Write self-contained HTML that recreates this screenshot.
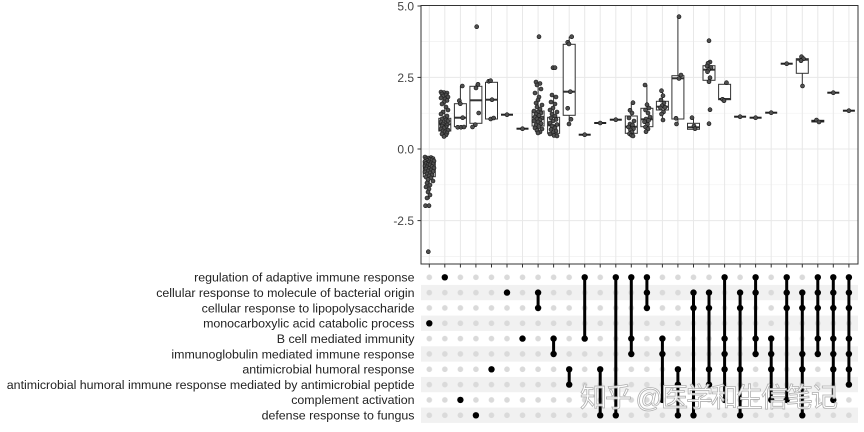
<!DOCTYPE html>
<html><head><meta charset="utf-8"><style>
html,body{margin:0;padding:0;background:#fff;}
svg{display:block;}
text{font-family:"Liberation Sans",Arial,sans-serif;}
</style></head><body>
<svg width="864" height="432" viewBox="0 0 864 432" xmlns="http://www.w3.org/2000/svg">
<defs>
<pattern id="gd" patternUnits="userSpaceOnUse" x="421.53" y="269.63" width="15.54" height="15.33">
<circle cx="7.77" cy="7.67" r="2.8" fill="#dadada"/>
</pattern>
</defs>
<rect width="864" height="432" fill="#fff"/>
<!-- panel grid -->
<g stroke="#f1f1f1" stroke-width="0.7">
<line x1="421" x2="858" y1="41.6" y2="41.6"/><line x1="421" x2="858" y1="113.2" y2="113.2"/>
<line x1="421" x2="858" y1="184.8" y2="184.8"/><line x1="421" x2="858" y1="256.4" y2="256.4"/>
</g>
<g stroke="#e8e8e8" stroke-width="1">
<line x1="421" x2="858" y1="77.4" y2="77.4"/><line x1="421" x2="858" y1="149" y2="149"/>
<line x1="421" x2="858" y1="220.6" y2="220.6"/>
<line x1="429.3" x2="429.3" y1="6" y2="264"/><line x1="444.8" x2="444.8" y1="6" y2="264"/>
<line x1="460.4" x2="460.4" y1="6" y2="264"/><line x1="475.9" x2="475.9" y1="6" y2="264"/>
<line x1="491.5" x2="491.5" y1="6" y2="264"/><line x1="507" x2="507" y1="6" y2="264"/>
<line x1="522.5" x2="522.5" y1="6" y2="264"/><line x1="538.1" x2="538.1" y1="6" y2="264"/>
<line x1="553.6" x2="553.6" y1="6" y2="264"/><line x1="569.2" x2="569.2" y1="6" y2="264"/>
<line x1="584.7" x2="584.7" y1="6" y2="264"/><line x1="600.2" x2="600.2" y1="6" y2="264"/>
<line x1="615.8" x2="615.8" y1="6" y2="264"/><line x1="631.3" x2="631.3" y1="6" y2="264"/>
<line x1="646.9" x2="646.9" y1="6" y2="264"/><line x1="662.4" x2="662.4" y1="6" y2="264"/>
<line x1="677.9" x2="677.9" y1="6" y2="264"/><line x1="693.5" x2="693.5" y1="6" y2="264"/>
<line x1="709" x2="709" y1="6" y2="264"/><line x1="724.6" x2="724.6" y1="6" y2="264"/>
<line x1="740.1" x2="740.1" y1="6" y2="264"/><line x1="755.6" x2="755.6" y1="6" y2="264"/>
<line x1="771.2" x2="771.2" y1="6" y2="264"/><line x1="786.7" x2="786.7" y1="6" y2="264"/>
<line x1="802.3" x2="802.3" y1="6" y2="264"/><line x1="817.8" x2="817.8" y1="6" y2="264"/>
<line x1="833.3" x2="833.3" y1="6" y2="264"/><line x1="848.9" x2="848.9" y1="6" y2="264"/>
</g>

<!-- boxplots -->
<g stroke="#333" stroke-width="1" fill="#fff">
<line x1="429.3" x2="429.3" y1="157" y2="199"/><rect x="423.3" y="161.7" width="12" height="15"/><line x1="423.3" x2="435.3" y1="168" y2="168" stroke-width="2"/>
<line x1="444.8" x2="444.8" y1="100" y2="136.7"/><rect x="438.8" y="118.3" width="12" height="12.7"/><line x1="438.8" x2="450.8" y1="124.3" y2="124.3" stroke-width="2"/>
<line x1="460.4" x2="460.4" y1="86" y2="127"/><rect x="454.4" y="103.7" width="12" height="23"/><line x1="454.4" x2="466.4" y1="117.7" y2="117.7" stroke-width="2"/>
<line x1="475.9" x2="475.9" y1="84.3" y2="127"/><rect x="469.9" y="86.3" width="12" height="37"/><line x1="469.9" x2="481.9" y1="100.3" y2="100.3" stroke-width="2"/>
<line x1="491.5" x2="491.5" y1="81" y2="119"/><rect x="485.5" y="82.3" width="12" height="36.7"/><line x1="485.5" x2="497.5" y1="99.7" y2="99.7" stroke-width="2"/>
<line x1="538.1" x2="538.1" y1="83.3" y2="133"/><rect x="532.1" y="111" width="12" height="15"/><line x1="532.1" x2="544.1" y1="117.3" y2="117.3" stroke-width="2"/>
<line x1="553.6" x2="553.6" y1="95" y2="136"/><rect x="547.6" y="117.3" width="12" height="16"/><line x1="547.6" x2="559.6" y1="125.3" y2="125.3" stroke-width="2"/>
<line x1="569.2" x2="569.2" y1="36.7" y2="124"/><rect x="563.2" y="44.3" width="12" height="71"/><line x1="563.2" x2="575.2" y1="91.7" y2="91.7" stroke-width="2"/>
<line x1="631.3" x2="631.3" y1="102.7" y2="136"/><rect x="625.3" y="116" width="12" height="17.3"/><line x1="625.3" x2="637.3" y1="126.7" y2="126.7" stroke-width="2"/>
<line x1="646.9" x2="646.9" y1="85" y2="131.7"/><rect x="640.9" y="108.3" width="12" height="18.4"/><line x1="640.9" x2="652.9" y1="119.3" y2="119.3" stroke-width="2"/>
<line x1="662.4" x2="662.4" y1="90.7" y2="120"/><rect x="656.4" y="101.3" width="12" height="8.7"/><line x1="656.4" x2="668.4" y1="106.7" y2="106.7" stroke-width="2"/>
<line x1="677.9" x2="677.9" y1="16.7" y2="124"/><rect x="671.9" y="75.7" width="12" height="43.3"/><line x1="671.9" x2="683.9" y1="78.3" y2="78.3" stroke-width="2"/>
<line x1="693.5" x2="693.5" y1="117.7" y2="129.3"/><rect x="687.5" y="123.3" width="12" height="6"/><line x1="687.5" x2="699.5" y1="127.3" y2="127.3" stroke-width="2"/>
<line x1="709" x2="709" y1="62" y2="82"/><rect x="703" y="65.7" width="12" height="14.6"/><line x1="703" x2="715" y1="69.7" y2="69.7" stroke-width="2"/>
<line x1="724.6" x2="724.6" y1="82.7" y2="100.7"/><rect x="718.6" y="84.3" width="12" height="15.4"/><line x1="718.6" x2="730.6" y1="99" y2="99" stroke-width="2"/>
<line x1="802.3" x2="802.3" y1="56.7" y2="86"/><rect x="796.3" y="58.7" width="12" height="14.6"/><line x1="796.3" x2="808.3" y1="59.7" y2="59.7" stroke-width="2"/>
<rect x="811.8" y="120.3" width="12" height="1.6"/>
</g>
<g stroke="#222" stroke-width="2">
<line x1="501" x2="513" y1="114.7" y2="114.7"/>
<line x1="516.5" x2="528.5" y1="128.7" y2="128.7"/>
<line x1="578.7" x2="590.7" y1="134.7" y2="134.7"/>
<line x1="594.2" x2="606.2" y1="123" y2="123"/>
<line x1="609.8" x2="621.8" y1="119.7" y2="119.7"/>
<line x1="734.1" x2="746.1" y1="116.7" y2="116.7"/>
<line x1="749.6" x2="761.6" y1="117.7" y2="117.7"/>
<line x1="765.2" x2="777.2" y1="112.7" y2="112.7"/>
<line x1="780.7" x2="792.7" y1="63.7" y2="63.7"/>
<line x1="811.8" x2="823.8" y1="121.3" y2="121.3"/>
<line x1="827.3" x2="839.3" y1="92.7" y2="92.7"/>
<line x1="842.9" x2="854.9" y1="110.7" y2="110.7"/>
</g>

<!-- jitter points -->
<g fill="#505050" stroke="#111" stroke-width="0.6">
<circle cx="425" cy="157" r="2"/><circle cx="431" cy="157.5" r="2"/><circle cx="428" cy="158" r="2"/><circle cx="433" cy="158.5" r="2"/><circle cx="426" cy="159" r="2"/><circle cx="430" cy="159.5" r="2"/><circle cx="432" cy="160" r="2"/><circle cx="427" cy="160.5" r="2"/><circle cx="434" cy="161" r="2"/><circle cx="425" cy="161.5" r="2"/><circle cx="429" cy="162" r="2"/><circle cx="431" cy="163" r="2"/><circle cx="426" cy="163.5" r="2"/><circle cx="433" cy="164" r="2"/><circle cx="428" cy="164.5" r="2"/><circle cx="430" cy="165" r="2"/><circle cx="425" cy="166" r="2"/><circle cx="432" cy="166.5" r="2"/><circle cx="427" cy="167" r="2"/><circle cx="434" cy="168" r="2"/><circle cx="429" cy="168.5" r="2"/><circle cx="426" cy="169" r="2"/><circle cx="431" cy="170" r="2"/><circle cx="428" cy="171" r="2"/><circle cx="433" cy="171.5" r="2"/><circle cx="425" cy="172" r="2"/><circle cx="430" cy="173" r="2"/><circle cx="427" cy="174" r="2"/><circle cx="432" cy="175" r="2"/><circle cx="429" cy="176" r="2"/><circle cx="426" cy="177" r="2"/><circle cx="431" cy="178" r="2"/><circle cx="428" cy="179.5" r="2"/><circle cx="433" cy="181" r="2"/><circle cx="427" cy="183" r="2"/><circle cx="430" cy="185" r="2"/><circle cx="426" cy="187" r="2"/><circle cx="429" cy="189" r="2"/><circle cx="428" cy="192" r="2"/><circle cx="430" cy="195" r="2"/><circle cx="427" cy="198" r="2"/><circle cx="425.5" cy="205.7" r="2"/><circle cx="429" cy="205.7" r="2"/><circle cx="428.3" cy="251.7" r="2"/>
<circle cx="441" cy="92" r="2"/><circle cx="444" cy="92.5" r="2"/><circle cx="447" cy="93" r="2"/><circle cx="442" cy="94" r="2"/><circle cx="446" cy="95" r="2"/><circle cx="443" cy="96" r="2"/><circle cx="448" cy="97" r="2"/><circle cx="441" cy="98" r="2"/><circle cx="445" cy="99" r="2"/><circle cx="447" cy="100.5" r="2"/><circle cx="444" cy="102" r="2"/><circle cx="442" cy="104" r="2"/><circle cx="446" cy="107" r="2"/><circle cx="448" cy="110" r="2"/><circle cx="443" cy="112" r="2"/><circle cx="441" cy="114" r="2"/><circle cx="447" cy="116" r="2"/><circle cx="444" cy="118" r="2"/><circle cx="442" cy="119" r="2"/><circle cx="446" cy="120" r="2"/><circle cx="448" cy="121" r="2"/><circle cx="441" cy="122" r="2"/><circle cx="445" cy="123" r="2"/><circle cx="443" cy="124" r="2"/><circle cx="447" cy="125" r="2"/><circle cx="442" cy="126" r="2"/><circle cx="446" cy="127" r="2"/><circle cx="444" cy="128" r="2"/><circle cx="441" cy="129" r="2"/><circle cx="448" cy="130" r="2"/><circle cx="443" cy="131" r="2"/><circle cx="445" cy="132" r="2"/><circle cx="447" cy="133" r="2"/><circle cx="442" cy="134" r="2"/><circle cx="446" cy="135" r="2"/><circle cx="444" cy="136.5" r="2"/>
<circle cx="462.3" cy="86" r="2"/><circle cx="459.3" cy="100.7" r="2"/><circle cx="460.3" cy="103.7" r="2"/><circle cx="462.7" cy="117.7" r="2"/><circle cx="457.7" cy="127.3" r="2"/><circle cx="461" cy="127.3" r="2"/><circle cx="464" cy="127" r="2"/>
<circle cx="476.7" cy="26.7" r="2"/><circle cx="478" cy="84.3" r="2"/><circle cx="476" cy="88" r="2"/><circle cx="478.7" cy="113" r="2"/><circle cx="475.3" cy="124.7" r="2"/><circle cx="472.5" cy="127" r="2"/>
<circle cx="488.7" cy="81.3" r="2"/><circle cx="490.6" cy="80.7" r="2"/><circle cx="492" cy="99.7" r="2"/><circle cx="490.7" cy="119" r="2"/><circle cx="493.7" cy="118" r="2"/>
<circle cx="507" cy="114.7" r="2"/><circle cx="522.5" cy="128.7" r="2"/><circle cx="584.7" cy="134.7" r="2"/><circle cx="600.2" cy="123" r="2"/><circle cx="615.8" cy="119.7" r="2"/><circle cx="740.1" cy="116.7" r="2"/><circle cx="755.6" cy="117.7" r="2"/><circle cx="771.2" cy="112.7" r="2"/><circle cx="786.7" cy="63.7" r="2"/><circle cx="833.3" cy="92.7" r="2"/><circle cx="848.9" cy="110.7" r="2"/>
<circle cx="539" cy="36.7" r="2"/><circle cx="536" cy="82" r="2"/><circle cx="540" cy="83.5" r="2"/><circle cx="537" cy="85" r="2"/><circle cx="541" cy="89" r="2"/><circle cx="535" cy="93" r="2"/><circle cx="539" cy="97" r="2"/><circle cx="538" cy="100" r="2"/><circle cx="536" cy="103" r="2"/><circle cx="542" cy="105" r="2"/><circle cx="537" cy="107" r="2"/><circle cx="540" cy="109" r="2"/><circle cx="534" cy="111" r="2"/><circle cx="538" cy="112" r="2"/><circle cx="541" cy="113" r="2"/><circle cx="536" cy="114" r="2"/><circle cx="539" cy="115.5" r="2"/><circle cx="535" cy="117" r="2"/><circle cx="542" cy="118" r="2"/><circle cx="537" cy="119" r="2"/><circle cx="540" cy="120" r="2"/><circle cx="534" cy="121" r="2"/><circle cx="538" cy="122" r="2"/><circle cx="541" cy="123.5" r="2"/><circle cx="536" cy="125" r="2"/><circle cx="539" cy="126.5" r="2"/><circle cx="535" cy="128" r="2"/><circle cx="542" cy="129" r="2"/><circle cx="537" cy="130.5" r="2"/><circle cx="540" cy="132" r="2"/><circle cx="538" cy="133" r="2"/>
<circle cx="553" cy="67.7" r="2"/><circle cx="555" cy="67.7" r="2"/><circle cx="552" cy="95" r="2"/><circle cx="556" cy="97" r="2"/><circle cx="551" cy="102" r="2"/><circle cx="555" cy="104" r="2"/><circle cx="553" cy="108" r="2"/><circle cx="550" cy="110" r="2"/><circle cx="557" cy="112" r="2"/><circle cx="552" cy="114" r="2"/><circle cx="555" cy="116" r="2"/><circle cx="551" cy="118" r="2"/><circle cx="556" cy="119.5" r="2"/><circle cx="553" cy="121" r="2"/><circle cx="550" cy="123" r="2"/><circle cx="557" cy="124.5" r="2"/><circle cx="552" cy="126" r="2"/><circle cx="555" cy="128" r="2"/><circle cx="551" cy="129.5" r="2"/><circle cx="556" cy="131" r="2"/><circle cx="553" cy="132.5" r="2"/><circle cx="550" cy="134" r="2"/><circle cx="554" cy="135.5" r="2"/><circle cx="557" cy="136" r="2"/>
<circle cx="571.7" cy="36.7" r="2"/><circle cx="567.7" cy="42.3" r="2"/><circle cx="569" cy="44" r="2"/><circle cx="570.3" cy="91.7" r="2"/><circle cx="567.7" cy="108.3" r="2"/><circle cx="571" cy="119.3" r="2"/><circle cx="569" cy="124" r="2"/>
<circle cx="633" cy="102.7" r="2"/><circle cx="630" cy="110.3" r="2"/><circle cx="632" cy="113" r="2"/><circle cx="629" cy="118" r="2"/><circle cx="634" cy="121" r="2"/><circle cx="630" cy="124" r="2"/><circle cx="632.5" cy="125" r="2"/><circle cx="628.5" cy="127" r="2"/><circle cx="633.5" cy="128.7" r="2"/><circle cx="630.5" cy="130" r="2"/><circle cx="632" cy="132" r="2"/><circle cx="629.5" cy="133.7" r="2"/><circle cx="631.5" cy="135.3" r="2"/><circle cx="633" cy="136" r="2"/>
<circle cx="645" cy="85" r="2"/><circle cx="647" cy="104.7" r="2"/><circle cx="649" cy="108" r="2"/><circle cx="645.5" cy="110" r="2"/><circle cx="648" cy="113" r="2"/><circle cx="650" cy="117" r="2"/><circle cx="646" cy="119" r="2"/><circle cx="648.5" cy="120.5" r="2"/><circle cx="644.5" cy="121.7" r="2"/><circle cx="647.5" cy="124.3" r="2"/><circle cx="645.5" cy="127" r="2"/><circle cx="648" cy="129" r="2"/><circle cx="646" cy="131.7" r="2"/>
<circle cx="661.5" cy="90.7" r="2"/><circle cx="663" cy="95.7" r="2"/><circle cx="661" cy="100" r="2"/><circle cx="664" cy="103" r="2"/><circle cx="662" cy="105.7" r="2"/><circle cx="665" cy="107.3" r="2"/><circle cx="660.5" cy="108" r="2"/><circle cx="663.5" cy="112" r="2"/><circle cx="661.5" cy="114" r="2"/><circle cx="663" cy="120" r="2"/>
<circle cx="679" cy="16.7" r="2"/><circle cx="681" cy="75" r="2"/><circle cx="679" cy="78.5" r="2"/><circle cx="676" cy="118.3" r="2"/><circle cx="676.5" cy="124" r="2"/>
<circle cx="692" cy="117.7" r="2"/><circle cx="694" cy="126" r="2"/><circle cx="695" cy="128.7" r="2"/>
<circle cx="709" cy="40.7" r="2"/><circle cx="710" cy="62" r="2"/><circle cx="708" cy="63.3" r="2"/><circle cx="707" cy="66" r="2"/><circle cx="711" cy="67.5" r="2"/><circle cx="708.5" cy="69.7" r="2"/><circle cx="707.5" cy="71.7" r="2"/><circle cx="710" cy="77.7" r="2"/><circle cx="709" cy="81.7" r="2"/><circle cx="710" cy="109.7" r="2"/><circle cx="709" cy="123.7" r="2"/>
<circle cx="726.5" cy="82.7" r="2"/><circle cx="722.5" cy="99.3" r="2"/><circle cx="724" cy="100.7" r="2"/>
<circle cx="801.5" cy="56.7" r="2"/><circle cx="803.5" cy="58.7" r="2"/><circle cx="801" cy="60.7" r="2"/><circle cx="802.5" cy="86" r="2"/>
<circle cx="816.5" cy="120" r="2"/><circle cx="819" cy="122" r="2"/>
</g>

<rect x="421" y="5.5" width="437" height="258.5" fill="none" stroke="#333" stroke-width="1"/>
<g stroke="#333" stroke-width="1">
<line x1="417.5" x2="421" y1="6" y2="6"/><line x1="417.5" x2="421" y1="77.4" y2="77.4"/><line x1="417.5" x2="421" y1="149" y2="149"/><line x1="417.5" x2="421" y1="220.6" y2="220.6"/>
<line x1="429.3" x2="429.3" y1="264" y2="267.5"/><line x1="444.8" x2="444.8" y1="264" y2="267.5"/><line x1="460.4" x2="460.4" y1="264" y2="267.5"/><line x1="475.9" x2="475.9" y1="264" y2="267.5"/><line x1="491.5" x2="491.5" y1="264" y2="267.5"/><line x1="507" x2="507" y1="264" y2="267.5"/><line x1="522.5" x2="522.5" y1="264" y2="267.5"/><line x1="538.1" x2="538.1" y1="264" y2="267.5"/><line x1="553.6" x2="553.6" y1="264" y2="267.5"/><line x1="569.2" x2="569.2" y1="264" y2="267.5"/><line x1="584.7" x2="584.7" y1="264" y2="267.5"/><line x1="600.2" x2="600.2" y1="264" y2="267.5"/><line x1="615.8" x2="615.8" y1="264" y2="267.5"/><line x1="631.3" x2="631.3" y1="264" y2="267.5"/><line x1="646.9" x2="646.9" y1="264" y2="267.5"/><line x1="662.4" x2="662.4" y1="264" y2="267.5"/><line x1="677.9" x2="677.9" y1="264" y2="267.5"/><line x1="693.5" x2="693.5" y1="264" y2="267.5"/><line x1="709" x2="709" y1="264" y2="267.5"/><line x1="724.6" x2="724.6" y1="264" y2="267.5"/><line x1="740.1" x2="740.1" y1="264" y2="267.5"/><line x1="755.6" x2="755.6" y1="264" y2="267.5"/><line x1="771.2" x2="771.2" y1="264" y2="267.5"/><line x1="786.7" x2="786.7" y1="264" y2="267.5"/><line x1="802.3" x2="802.3" y1="264" y2="267.5"/><line x1="817.8" x2="817.8" y1="264" y2="267.5"/><line x1="833.3" x2="833.3" y1="264" y2="267.5"/><line x1="848.9" x2="848.9" y1="264" y2="267.5"/>
</g>
<g font-size="12" fill="#444" text-anchor="end">
<text x="414" y="10.5">5.0</text>
<text x="414" y="81.8">2.5</text>
<text x="414" y="153.4">0.0</text>
<text x="414" y="225">-2.5</text>
</g>

<g fill="#f1f1f1">
<rect x="421" y="284.9" width="437" height="15.33"/>
<rect x="421" y="315.6" width="437" height="15.33"/>
<rect x="421" y="346.3" width="437" height="15.33"/>
<rect x="421" y="376.9" width="437" height="15.33"/>
<rect x="421" y="407.6" width="437" height="15.33"/>
</g>
<rect x="421.53" y="269.63" width="435.12" height="153.3" fill="url(#gd)"/>

<g font-size="12.4" fill="#222" text-anchor="end">
<text x="414.5" y="281.6">regulation of adaptive immune response</text>
<text x="414.5" y="296.9">cellular response to molecule of bacterial origin</text>
<text x="414.5" y="312.3">cellular response to lipopolysaccharide</text>
<text x="414.5" y="327.6">monocarboxylic acid catabolic process</text>
<text x="414.5" y="342.9">B cell mediated immunity</text>
<text x="414.5" y="358.3">immunoglobulin mediated immune response</text>
<text x="414.5" y="373.6">antimicrobial humoral response</text>
<text x="414.5" y="388.9">antimicrobial humoral immune response mediated by antimicrobial peptide</text>
<text x="414.5" y="404.2">complement activation</text>
<text x="414.5" y="419.6">defense response to fungus</text>
</g>

<g stroke="#000" stroke-width="3">
<line x1="538.1" x2="538.1" y1="292.6" y2="308"/>
<line x1="553.6" x2="553.6" y1="338.6" y2="354"/>
<line x1="569.2" x2="569.2" y1="369.3" y2="384.6"/>
<line x1="584.7" x2="584.7" y1="277.3" y2="338.6"/>
<line x1="600.2" x2="600.2" y1="369.3" y2="415.3"/>
<line x1="615.8" x2="615.8" y1="277.3" y2="415.3"/>
<line x1="631.3" x2="631.3" y1="277.3" y2="354"/>
<line x1="646.9" x2="646.9" y1="277.3" y2="308"/>
<line x1="662.4" x2="662.4" y1="338.6" y2="399.9"/>
<line x1="677.9" x2="677.9" y1="369.3" y2="415.3"/>
<line x1="693.5" x2="693.5" y1="292.6" y2="415.3"/>
<line x1="709" x2="709" y1="292.6" y2="384.6"/>
<line x1="724.6" x2="724.6" y1="277.3" y2="399.9"/>
<line x1="740.1" x2="740.1" y1="292.6" y2="415.3"/>
<line x1="755.6" x2="755.6" y1="277.3" y2="354"/>
<line x1="771.2" x2="771.2" y1="338.6" y2="399.9"/>
<line x1="786.7" x2="786.7" y1="277.3" y2="399.9"/>
<line x1="802.3" x2="802.3" y1="292.6" y2="415.3"/>
<line x1="817.8" x2="817.8" y1="277.3" y2="354"/>
<line x1="833.3" x2="833.3" y1="277.3" y2="399.9"/>
<line x1="848.9" x2="848.9" y1="277.3" y2="384.6"/>
</g>
<g fill="#000">
<circle cx="429.3" cy="323.3" r="3.2"/>
<circle cx="444.8" cy="277.3" r="3.2"/>
<circle cx="460.4" cy="399.9" r="3.2"/>
<circle cx="475.9" cy="415.3" r="3.2"/>
<circle cx="491.5" cy="369.3" r="3.2"/>
<circle cx="507" cy="292.6" r="3.2"/>
<circle cx="522.5" cy="338.6" r="3.2"/>
<circle cx="538.1" cy="292.6" r="3.2"/><circle cx="538.1" cy="308" r="3.2"/>
<circle cx="553.6" cy="338.6" r="3.2"/><circle cx="553.6" cy="354" r="3.2"/>
<circle cx="569.2" cy="369.3" r="3.2"/><circle cx="569.2" cy="384.6" r="3.2"/>
<circle cx="584.7" cy="277.3" r="3.2"/><circle cx="584.7" cy="338.6" r="3.2"/>
<circle cx="600.2" cy="369.3" r="3.2"/><circle cx="600.2" cy="415.3" r="3.2"/>
<circle cx="615.8" cy="277.3" r="3.2"/><circle cx="615.8" cy="415.3" r="3.2"/>
<circle cx="631.3" cy="277.3" r="3.2"/><circle cx="631.3" cy="338.6" r="3.2"/><circle cx="631.3" cy="354" r="3.2"/>
<circle cx="646.9" cy="277.3" r="3.2"/><circle cx="646.9" cy="292.6" r="3.2"/><circle cx="646.9" cy="308" r="3.2"/>
<circle cx="662.4" cy="338.6" r="3.2"/><circle cx="662.4" cy="354" r="3.2"/><circle cx="662.4" cy="399.9" r="3.2"/>
<circle cx="677.9" cy="369.3" r="3.2"/><circle cx="677.9" cy="384.6" r="3.2"/><circle cx="677.9" cy="415.3" r="3.2"/>
<circle cx="693.5" cy="292.6" r="3.2"/><circle cx="693.5" cy="308" r="3.2"/><circle cx="693.5" cy="415.3" r="3.2"/>
<circle cx="709" cy="292.6" r="3.2"/><circle cx="709" cy="308" r="3.2"/><circle cx="709" cy="369.3" r="3.2"/><circle cx="709" cy="384.6" r="3.2"/>
<circle cx="724.6" cy="277.3" r="3.2"/><circle cx="724.6" cy="338.6" r="3.2"/><circle cx="724.6" cy="354" r="3.2"/><circle cx="724.6" cy="369.3" r="3.2"/><circle cx="724.6" cy="399.9" r="3.2"/>
<circle cx="740.1" cy="292.6" r="3.2"/><circle cx="740.1" cy="308" r="3.2"/><circle cx="740.1" cy="369.3" r="3.2"/><circle cx="740.1" cy="415.3" r="3.2"/>
<circle cx="755.6" cy="277.3" r="3.2"/><circle cx="755.6" cy="292.6" r="3.2"/><circle cx="755.6" cy="338.6" r="3.2"/><circle cx="755.6" cy="354" r="3.2"/>
<circle cx="771.2" cy="338.6" r="3.2"/><circle cx="771.2" cy="354" r="3.2"/><circle cx="771.2" cy="369.3" r="3.2"/><circle cx="771.2" cy="399.9" r="3.2"/>
<circle cx="786.7" cy="277.3" r="3.2"/><circle cx="786.7" cy="292.6" r="3.2"/><circle cx="786.7" cy="308" r="3.2"/><circle cx="786.7" cy="399.9" r="3.2"/>
<circle cx="802.3" cy="292.6" r="3.2"/><circle cx="802.3" cy="308" r="3.2"/><circle cx="802.3" cy="354" r="3.2"/><circle cx="802.3" cy="369.3" r="3.2"/><circle cx="802.3" cy="415.3" r="3.2"/>
<circle cx="817.8" cy="277.3" r="3.2"/><circle cx="817.8" cy="292.6" r="3.2"/><circle cx="817.8" cy="308" r="3.2"/><circle cx="817.8" cy="338.6" r="3.2"/><circle cx="817.8" cy="354" r="3.2"/>
<circle cx="833.3" cy="277.3" r="3.2"/><circle cx="833.3" cy="292.6" r="3.2"/><circle cx="833.3" cy="308" r="3.2"/><circle cx="833.3" cy="338.6" r="3.2"/><circle cx="833.3" cy="354" r="3.2"/><circle cx="833.3" cy="369.3" r="3.2"/><circle cx="833.3" cy="399.9" r="3.2"/>
<circle cx="848.9" cy="277.3" r="3.2"/><circle cx="848.9" cy="292.6" r="3.2"/><circle cx="848.9" cy="308" r="3.2"/><circle cx="848.9" cy="338.6" r="3.2"/><circle cx="848.9" cy="354" r="3.2"/><circle cx="848.9" cy="369.3" r="3.2"/><circle cx="848.9" cy="384.6" r="3.2"/>
</g>

<text x="580" y="407" font-size="27" textLength="258" lengthAdjust="spacing" fill="#ffffff" fill-opacity="0.93" stroke="#b0b0b0" stroke-width="0.8" style='font-family:"Liberation Sans","Noto Sans CJK SC",sans-serif'>知乎 @医学和生信笔记</text>
</svg>
</body></html>
